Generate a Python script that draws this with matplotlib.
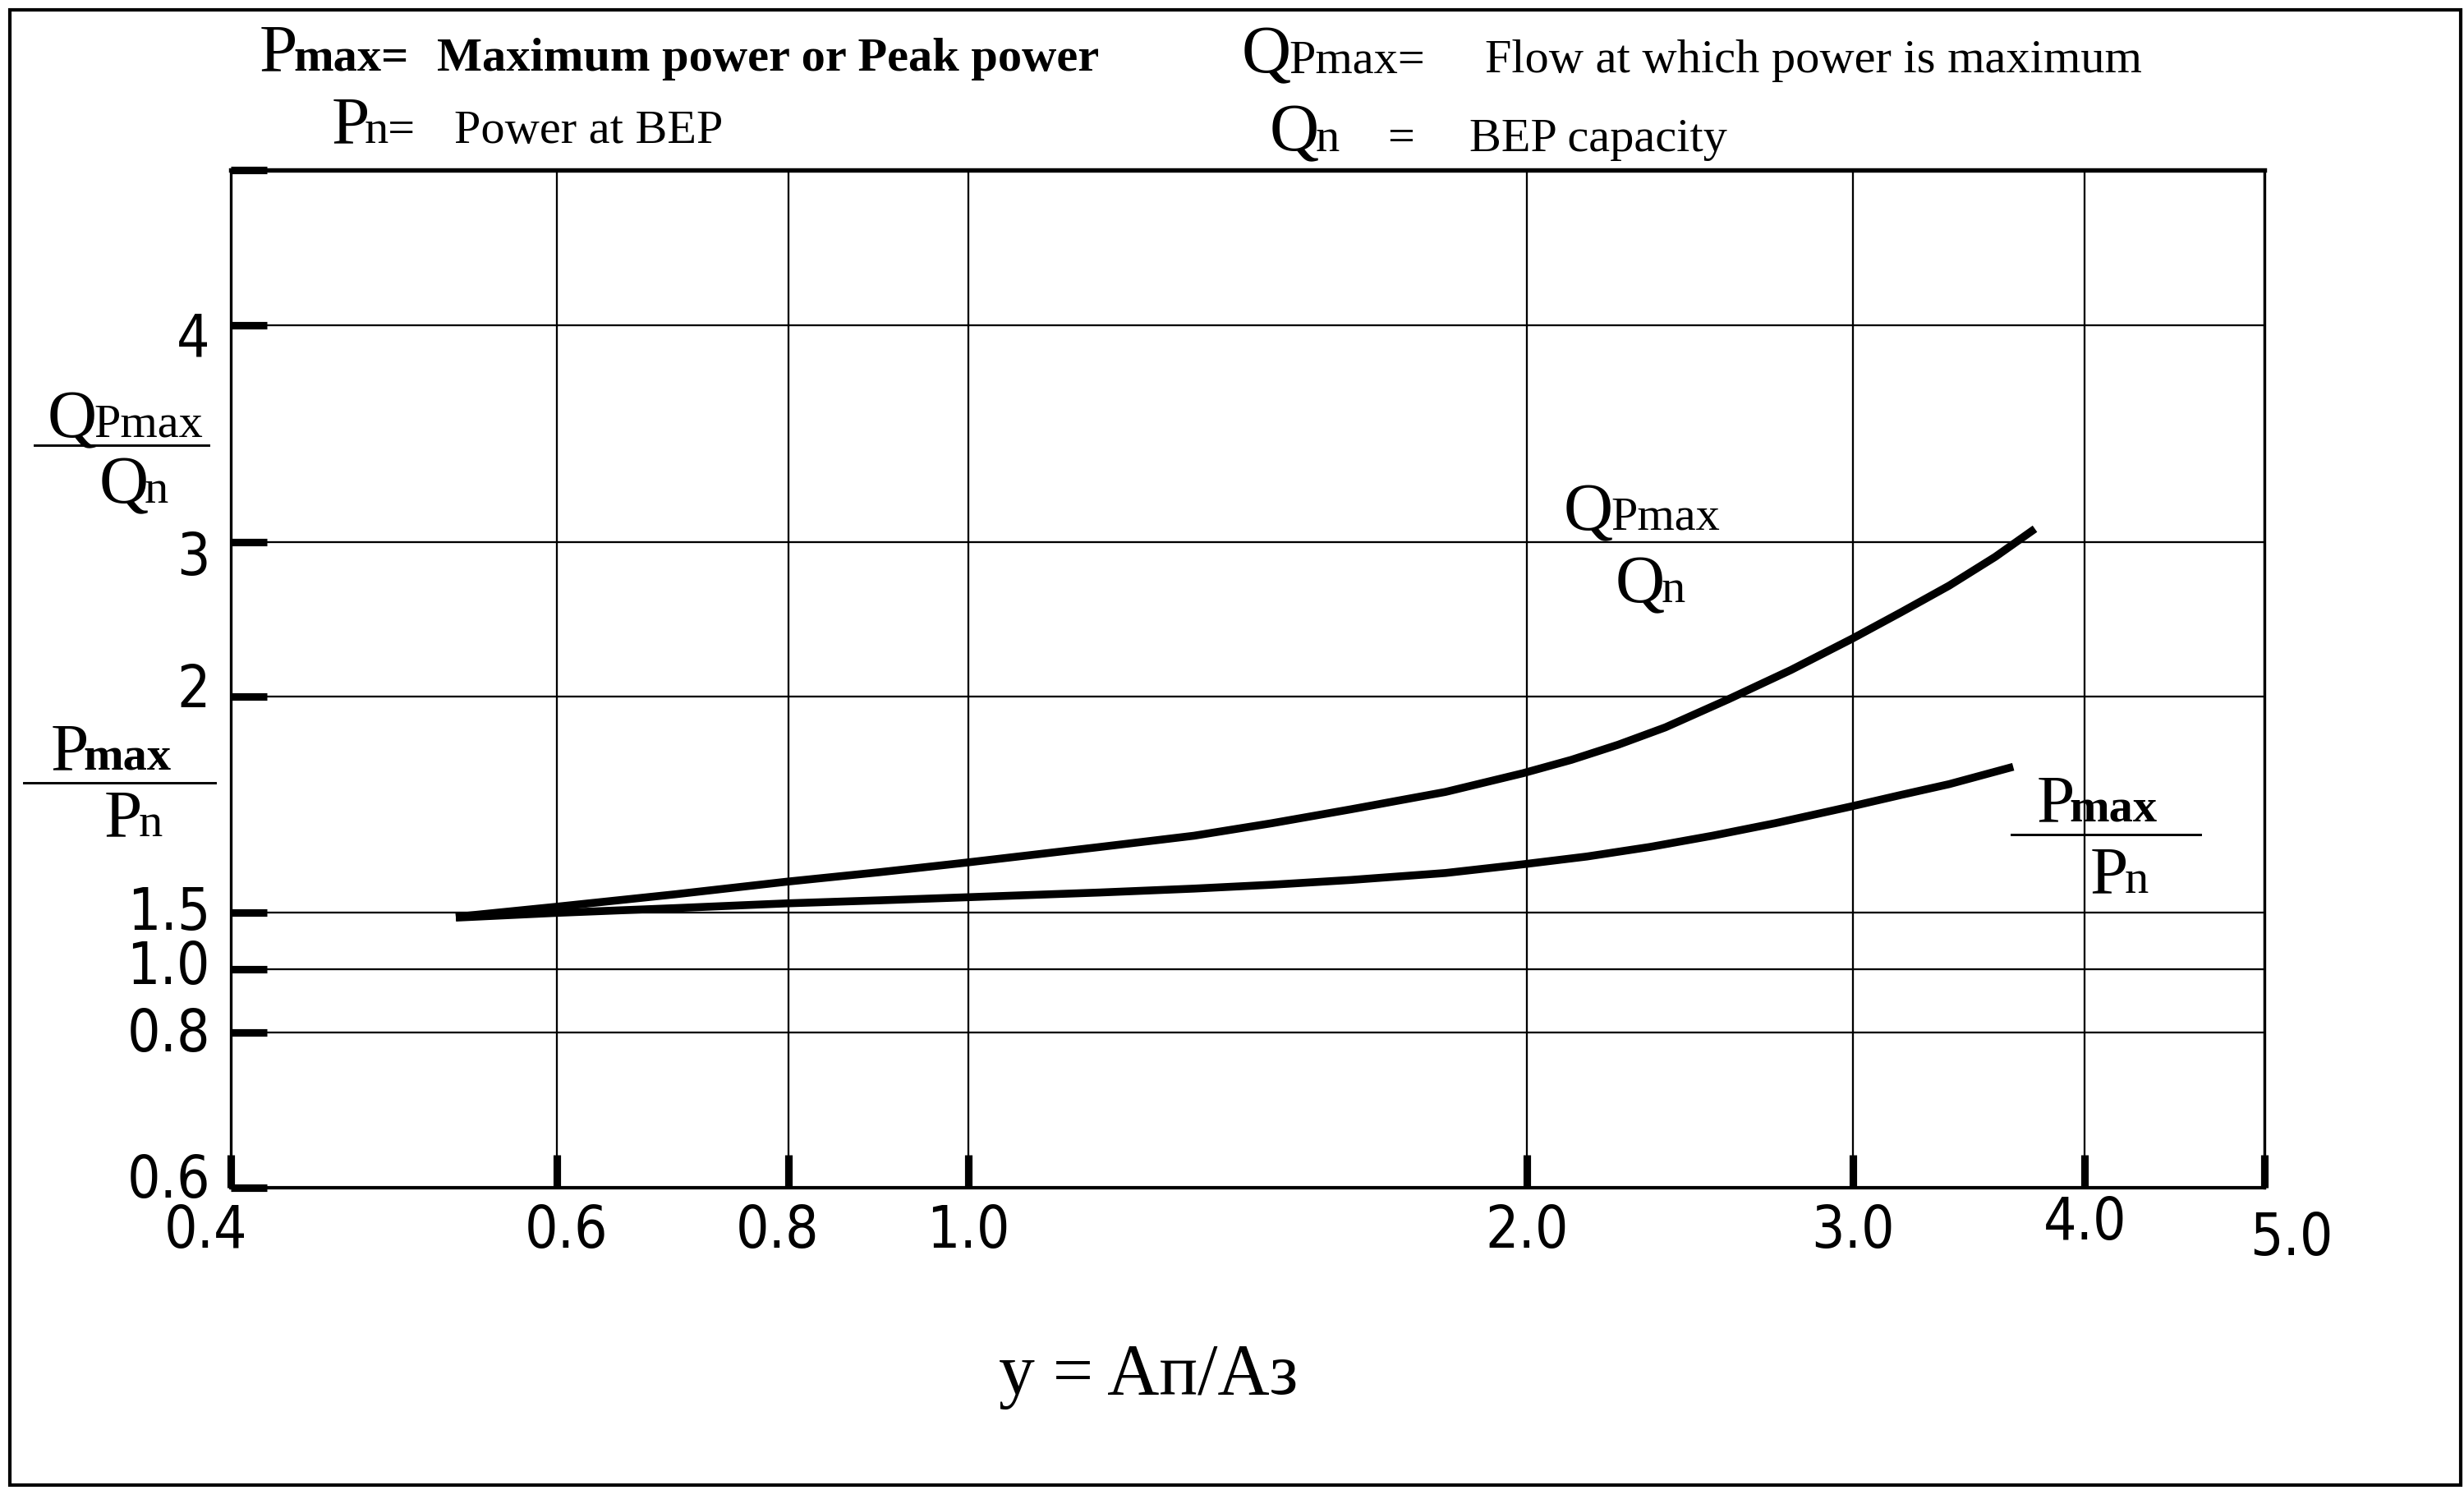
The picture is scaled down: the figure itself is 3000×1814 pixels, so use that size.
import numpy as np
import matplotlib
matplotlib.use("Agg")
import matplotlib.pyplot as plt
from matplotlib import font_manager
from matplotlib.lines import Line2D
from matplotlib.transforms import ScaledTranslation

# Data
area_ratio_q = [0.529, 0.599, 0.695, 0.798, 0.896, 0.997, 1.177, 1.323, 1.458, 1.608, 1.808,
                1.99, 2.114, 2.241, 2.376, 2.57, 2.777, 2.996, 3.183, 3.38, 3.579, 3.76]
qpmax_qn = [1.465, 1.514, 1.543, 1.572, 1.594, 1.616, 1.652, 1.678, 1.707, 1.739, 1.779,
            1.822, 1.853, 1.888, 1.928, 1.993, 2.170, 2.373, 2.544, 2.718, 2.905, 3.062]

area_ratio_p = [0.529, 0.599, 0.695, 0.798, 0.896, 0.997, 1.177, 1.323, 1.458, 1.608, 1.808,
                1.99, 2.155, 2.33, 2.519, 2.724, 2.996, 3.183, 3.38, 3.66]
pmax_pn = [1.458, 1.50, 1.511, 1.522, 1.529, 1.536, 1.547, 1.556, 1.565, 1.576, 1.592,
           1.612, 1.630, 1.652, 1.678, 1.707, 1.746, 1.772, 1.797, 1.837]

x_ticks = [0.4, 0.6, 0.8, 1.0, 2.0, 3.0, 4.0, 5.0]
x_labels = ["0.4", "0.6", "0.8", "1.0", "2.0", "3.0", "4.0", "5.0"]
y_ticks = [0.6, 0.8, 1.0, 1.5, 2, 3, 4, 5]
y_labels = ["0.6", "0.8", "1.0", "1.5", "2", "3", "4", ""]

# fonts: tick numbers are in a narrow sans, rest in a Times-like serif
def pick_narrow():
    fonts = font_manager.fontManager.ttflist
    for f in fonts:
        if f.name == "Liberation Sans Narrow" and f.weight in (400, "normal") and f.style == "normal":
            return font_manager.FontProperties(fname=f.fname)
    for f in fonts:
        low = (f.name + " " + f.fname).lower()
        if ("narrow" in low or "condensed" in low or f.stretch in ("condensed", "semi-condensed")) \
                and f.style == "normal" and f.weight in (400, "normal") and "mono" not in low:
            return font_manager.FontProperties(fname=f.fname)
    return font_manager.FontProperties(family="Liberation Sans")

tick_fp = pick_narrow()
tick_fp.set_size(17)
serif = "Liberation Serif"

fig = plt.figure(figsize=(10, 1814 / 300), dpi=300)
ax = fig.add_axes([281 / 3000, 1 - 1446 / 1814, (2757 - 281) / 3000, (1446 - 207) / 1814])

# the original y axis has uneven spacing between its ticks
y_tick_pos = [0, 99, 139, 175, 313, 411, 549, 648]
def fwd(v):
    return np.interp(v, y_ticks, y_tick_pos)
def inv(p):
    return np.interp(p, y_tick_pos, y_ticks)

ax.set_xscale("log")
ax.set_yscale("function", functions=(fwd, inv))
ax.set_xlim(0.4, 5.0)
ax.set_ylim(0.6, 5)
ax.set_xticks(x_ticks, x_labels)
ax.set_yticks(y_ticks, y_labels)
ax.minorticks_off()

ax.grid(True, color="black", lw=0.55)
ax.set_axisbelow(True)

ax.plot(area_ratio_q, qpmax_qn, color="black", lw=2.3, solid_capstyle="butt", solid_joinstyle="round")
ax.plot(area_ratio_p, pmax_pn, color="black", lw=2.3, solid_capstyle="butt", solid_joinstyle="round")

for side, w in [("top", 1.3), ("left", 0.8), ("bottom", 1.0), ("right", 0.8)]:
    ax.spines[side].set_linewidth(w)

ax.tick_params(axis="y", direction="in", length=10.5, width=2.2, pad=6, right=False)
ax.tick_params(axis="x", direction="in", length=9.6, width=2.2, pad=4.5, top=False)
for lbl in ax.get_xticklabels() + ax.get_yticklabels():
    lbl.set_fontproperties(tick_fp)

# nudge labels like the original
x_off = [(-0.103, 0), (0.038, 0), (-0.045, 0), (0, 0), (0, 0), (0, 0), (0, 0.032), (0.11, -0.032)]
for lbl, (dx, dy) in zip(ax.get_xticklabels(), x_off):
    lbl.set_transform(lbl.get_transform() + ScaledTranslation(dx, dy, fig.dpi_scale_trans))
y_off = [0.05, 0.013, 0.032, 0.02, 0.045, -0.043, -0.035, 0]
for lbl, dy in zip(ax.get_yticklabels(), y_off):
    lbl.set_transform(lbl.get_transform() + ScaledTranslation(0, dy, fig.dpi_scale_trans))


def put(xs, ys, s, size=14, weight="normal", ha="left"):
    # xs, ys in pixels of the 1568x948 preview
    fig.text(xs / 1568, 1 - ys / 948, s, fontsize=size, fontweight=weight,
             family=serif, ha=ha, va="baseline")


def bar(x0, x1, ys):
    fig.add_artist(Line2D([x0 / 1568, x1 / 1568], [1 - ys / 948] * 2,
                          transform=fig.transFigure, color="black", lw=0.7))


# header
put(165, 45, "P", 20)
put(187, 45, "max=", 14, "bold")
put(278, 45, "Maximum power or Peak power", 14, "bold")
put(211, 91, "P", 20)
put(232, 91, "n=", 14)
put(289, 91, "Power at BEP", 14)

put(790, 46, "Q", 20)
put(820, 46, "Pmax=", 14)
put(945, 46, "Flow at which power is maximum", 14)
put(808, 96, "Q", 20)
put(837, 96, "n", 14)
put(883, 96, "=", 14)
put(935, 96, "BEP capacity", 14)

# y axis labels
put(30, 278, "Q", 20)
put(60, 278, "Pmax", 14)
bar(22, 133, 283)
put(63, 320, "Q", 20)
put(92, 320, "n", 14)

put(32, 490, "P", 20)
put(53, 490, "max", 14, "bold")
bar(15, 137, 498)
put(66, 532, "P", 20)
put(88, 532, "n", 14)

# curve labels
put(995, 337, "Q", 20)
put(1025, 337, "Pmax", 14)
put(1028, 383, "Q", 20)
put(1057, 383, "n", 14)

put(1296, 523, "P", 20)
put(1317, 523, "max", 14, "bold")
bar(1280, 1400, 531)
put(1330, 568, "P", 20)
put(1352, 568, "n", 14)

# x axis label
put(731, 887, "y = Aп/Aз", 21, ha="center")

# frame around the whole figure
fig.add_artist(plt.Rectangle((12 / 3000, 6 / 1814), (2996 - 12) / 3000, (1808 - 12) / 1814,
                             transform=fig.transFigure, fill=False, lw=1.0, ec="black"))

fig.savefig("out.png", dpi=300)
